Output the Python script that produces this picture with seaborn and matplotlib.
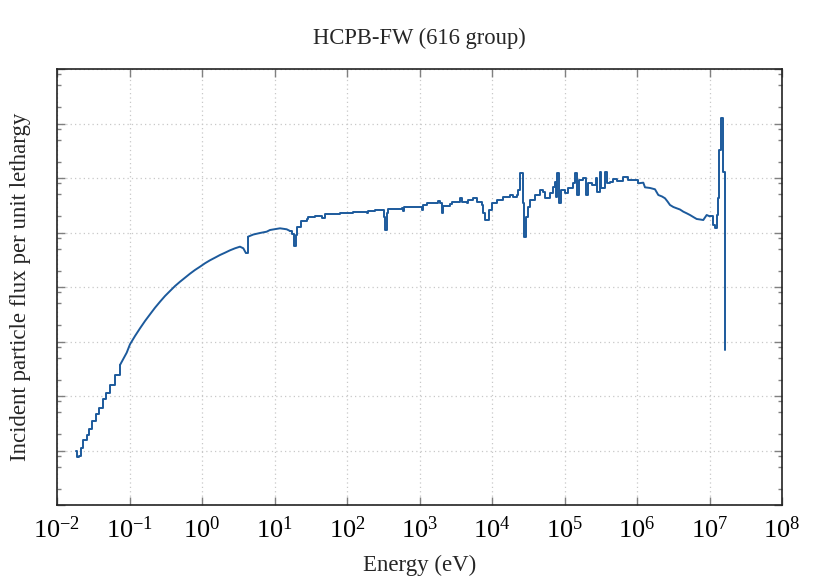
import numpy as np
import pandas as pd
import matplotlib
matplotlib.use("Agg")
import matplotlib.pyplot as plt
import matplotlib.ticker as mticker
import seaborn as sns

# ---- data (log10 of energy in eV, log10 of flux, arbitrary units) ----
log10_energy_ev = [
    -1.742, -1.728, -1.692, -1.673, -1.637, -1.590, -1.554, -1.513, -1.466, -1.417,
    -1.370, -1.324, -1.269, -1.200, -1.131, -1.039, -0.993, -0.924, -0.855, -0.786,
    -0.717, -0.648, -0.579, -0.510, -0.441, -0.372, -0.303, -0.234, -0.166, -0.097,
    -0.028, 0.041, 0.110, 0.179, 0.248, 0.317, 0.386, 0.455, 0.524, 0.570,
    0.603, 0.635, 0.708, 0.800, 0.892, 0.938, 1.076, 1.168, 1.214, 1.241,
    1.269, 1.290, 1.310, 1.359, 1.444, 1.466, 1.559, 1.662, 1.697, 1.903,
    2.083, 2.248, 2.269, 2.290, 2.386, 2.483, 2.510, 2.528, 2.549, 2.572,
    2.754, 2.772, 2.793, 3.007, 3.028, 3.048, 3.099, 3.259, 3.283, 3.308,
    3.324, 3.421, 3.444, 3.559, 3.582, 3.651, 3.673, 3.742, 3.789, 3.858,
    3.880, 3.903, 3.952, 3.996, 4.065, 4.156, 4.248, 4.294, 4.341, 4.363,
    4.386, 4.432, 4.448, 4.469, 4.490, 4.524, 4.593, 4.662, 4.708, 4.731,
    4.800, 4.846, 4.869, 4.883, 4.903, 4.931, 4.952, 5.007, 5.052, 5.121,
    5.145, 5.166, 5.200, 5.259, 5.297, 5.324, 5.375, 5.441, 5.455, 5.483,
    5.510, 5.552, 5.582, 5.628, 5.673, 5.720, 5.811, 5.869, 6.018, 6.087,
    6.110, 6.179, 6.248, 6.294, 6.345, 6.386, 6.421, 6.455, 6.501, 6.548,
    6.593, 6.639, 6.686, 6.731, 6.777, 6.823, 6.869, 6.914, 6.961, 7.007,
    7.044, 7.076, 7.099, 7.117, 7.135, 7.154, 7.182, 7.207,
]
log10_flux = [
    0.991, 0.875, 0.899, 1.046, 1.193, 1.284, 1.394, 1.547, 1.670, 1.780,
    1.945, 2.055, 2.202, 2.385, 2.569, 2.794, 2.949, 3.101, 3.242, 3.376,
    3.499, 3.620, 3.730, 3.835, 3.927, 4.018, 4.097, 4.171, 4.244, 4.312,
    4.372, 4.435, 4.490, 4.538, 4.587, 4.629, 4.673, 4.710, 4.740, 4.710,
    4.629, 4.923, 4.963, 4.991, 5.015, 5.046, 5.077, 5.059, 5.028, 4.972,
    4.752, 4.954, 5.106, 5.211, 5.242, 5.279, 5.303, 5.257, 5.334, 5.352,
    5.371, 5.382, 5.349, 5.394, 5.422, 5.404, 5.290, 5.046, 5.358, 5.426,
    5.455, 5.400, 5.462, 5.473, 5.413, 5.505, 5.536, 5.583, 5.547, 5.352,
    5.486, 5.517, 5.565, 5.628, 5.565, 5.547, 5.596, 5.628, 5.565, 5.505,
    5.352, 5.229, 5.413, 5.536, 5.596, 5.657, 5.688, 5.646, 5.688, 5.780,
    6.086, 5.536, 4.923, 5.290, 5.473, 5.596, 5.688, 5.780, 5.749, 5.628,
    5.719, 5.840, 5.932, 5.657, 6.086, 5.536, 5.780, 5.719, 5.811, 5.903,
    6.097, 5.688, 5.963, 5.994, 5.688, 5.903, 5.872, 5.994, 5.749, 6.116,
    5.811, 6.116, 5.903, 5.932, 5.976, 5.950, 6.024, 5.963, 5.903, 5.914,
    5.829, 5.817, 5.793, 5.688, 5.661, 5.628, 5.569, 5.505, 5.468, 5.444,
    5.422, 5.382, 5.352, 5.321, 5.284, 5.248, 5.239, 5.229, 5.321, 5.294,
    5.138, 5.077, 5.321, 5.628, 6.514, 7.095, 6.116, 2.844,
]
# energy ranges (log10 eV) where the spectrum is a smooth curve rather than visible steps
smooth_ranges = [(-1.131, 0.603), (0.635, 1.214), (6.018, 7.007)]
x_tick_exponents = [-2, -1, 0, 1, 2, 3, 4, 5, 6, 7, 8]
title_text = "HCPB-FW (616 group)"
x_label_text = "Energy (eV)"
y_label_text = "Incident particle flux per unit lethargy"

lgE = np.array(log10_energy_ev)
df = pd.DataFrame({
    "energy": np.power(10.0, lgE),
    "flux": np.power(10.0, log10_flux),
})

# split into consecutive pieces: smooth pieces drawn as lines, others as steps
bounds = sorted({lgE[0], lgE[-1]} | {b for r in smooth_ranges for b in r})
pieces = []
for lo, hi in zip(bounds[:-1], bounds[1:]):
    mask = (lgE >= lo - 1e-9) & (lgE <= hi + 1e-9)
    smooth = any(abs(lo - r[0]) < 1e-9 and abs(hi - r[1]) < 1e-9 for r in smooth_ranges)
    pieces.append((df[mask], smooth))

sns.set_theme(style="white")
plt.rcParams["font.family"] = ["Liberation Serif", "DejaVu Serif"]
plt.rcParams["mathtext.fontset"] = "custom"
plt.rcParams["mathtext.rm"] = "Liberation Serif"
plt.rcParams["mathtext.it"] = "Liberation Serif:italic"
plt.rcParams["mathtext.default"] = "regular"

fig = plt.figure(figsize=(8.25, 5.78), dpi=100)
ax = fig.add_axes([57 / 825, 1 - 505 / 578, (782 - 57) / 825, (505 - 69) / 578])

line_color = "#1c5a9c"
for piece, smooth in pieces:
    sns.lineplot(data=piece, x="energy", y="flux",
                 drawstyle="default" if smooth else "steps-post",
                 color=line_color, linewidth=1.4, estimator=None, sort=False, ax=ax)

ax.set_xscale("log")
ax.set_yscale("log")
ax.set_xlim(10.0 ** x_tick_exponents[0], 10.0 ** x_tick_exponents[-1])
ax.set_ylim(1e0, 1e8)

ax.xaxis.set_major_locator(mticker.FixedLocator([10.0 ** e for e in x_tick_exponents]))
ax.xaxis.set_minor_locator(mticker.NullLocator())
ax.xaxis.set_major_formatter(mticker.FixedFormatter(
    [r"$10^{%d}$" % e for e in x_tick_exponents]))
ax.yaxis.set_major_locator(mticker.LogLocator(base=10, numticks=20))
ax.yaxis.set_minor_locator(mticker.LogLocator(base=10, subs=[2, 5, 8], numticks=20))
ax.yaxis.set_major_formatter(mticker.NullFormatter())
ax.yaxis.set_minor_formatter(mticker.NullFormatter())

ax.tick_params(axis="both", which="both", direction="in", colors="#808080",
               top=True, right=True, bottom=True, left=True, width=1.0)
ax.tick_params(axis="both", which="major", length=5.5)
ax.tick_params(axis="both", which="minor", length=3)
ax.tick_params(axis="x", which="major", labelsize=19, labelcolor="black", pad=8)
ax.tick_params(axis="y", labelleft=False)

ax.grid(True, which="major", color="#c8c8c8", linestyle=(0, (1, 2.5)), linewidth=0.9)
for s in ax.spines.values():
    s.set_color("#222222")
    s.set_linewidth(1.2)
    s.set_visible(True)

ax.set_title(title_text, fontsize=16.3, pad=18)
ax.set_xlabel(x_label_text, fontsize=16.5, labelpad=9)
ax.set_ylabel(y_label_text, fontsize=16.5)
ax.yaxis.set_label_coords(-0.036, 0.5)

fig.savefig("out.png", dpi=100)
